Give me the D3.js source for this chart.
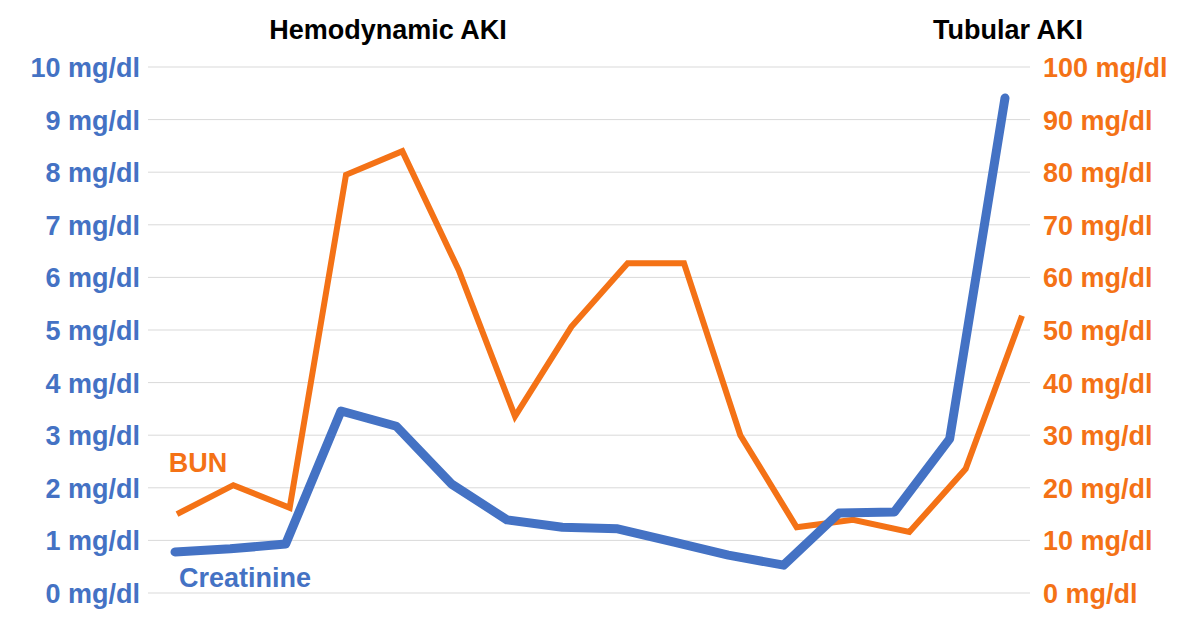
<!DOCTYPE html><html><head><meta charset="utf-8"><script src="https://cdn.jsdelivr.net/npm/d3@7"></script>
<style>body{margin:0;background:#fff}</style></head><body><svg id="c" width="1200" height="628"></svg>
<script>
const points = d3.range(16);
const creatinine = [0.78,0.84,0.93,3.46,3.17,2.07,1.39,1.25,1.22,0.97,0.72,0.53,1.52,1.54,2.93,9.41];
const bun = [15,20.5,16.2,79.5,84,61.4,33.6,50.6,62.7,62.7,30,12.5,13.9,11.6,23.6,52.7];
const leftTicks = d3.range(0,11);
const rightTicks = d3.range(0,101,10);
const blue="#4472C4", orange="#F47216";
const svg=d3.select("#c");
const yL=d3.scaleLinear().domain([0,10]).range([593,67]);
const yR=d3.scaleLinear().domain([0,100]).range([593,67]);
const xC=d3.scalePoint().domain(points).range([175,1005]);
const xB=d3.scalePoint().domain(points).range([177,1022]);
const font="'Liberation Sans',Arial,sans-serif";
svg.append("g").selectAll("line").data(leftTicks).join("line")
 .attr("x1",148).attr("x2",1030).attr("y1",d=>yL(d)).attr("y2",d=>yL(d)).attr("stroke","#d9d9d9").attr("stroke-width",1);
const gl=svg.append("g").attr("transform","translate(140,0)").call(d3.axisLeft(yL).tickValues(leftTicks).tickSize(0).tickPadding(0).tickFormat(d=>d+" mg/dl"));
gl.select(".domain").remove();
gl.selectAll("text").attr("fill",blue).style("font",`bold 27px ${font}`).attr("dy","0.35em");
const gr=svg.append("g").attr("transform","translate(1043,0)").call(d3.axisRight(yR).tickValues(rightTicks).tickSize(0).tickPadding(0).tickFormat(d=>d+" mg/dl"));
gr.select(".domain").remove();
gr.selectAll("text").attr("fill",orange).style("font",`bold 27px ${font}`).attr("dy","0.35em");
svg.append("path").datum(points).attr("fill","none").attr("stroke",orange).attr("stroke-width",6).attr("stroke-linejoin","miter")
 .attr("d",d3.line().x(i=>xB(i)).y(i=>yR(bun[i])));
svg.append("path").datum(points).attr("fill","none").attr("stroke",blue).attr("stroke-width",9).attr("stroke-linecap","round").attr("stroke-linejoin","round")
 .attr("d",d3.line().x(i=>xC(i)).y(i=>yL(creatinine[i])));
const t=(x,y,s,c)=>svg.append("text").attr("x",x).attr("y",y).attr("text-anchor","middle").attr("fill",c).style("font",`bold 27px ${font}`).text(s);
t(388,39,"Hemodynamic AKI","#000");
t(1008,39,"Tubular AKI","#000");
t(198,472,"BUN",orange);
t(245,587,"Creatinine",blue);
</script></body></html>
